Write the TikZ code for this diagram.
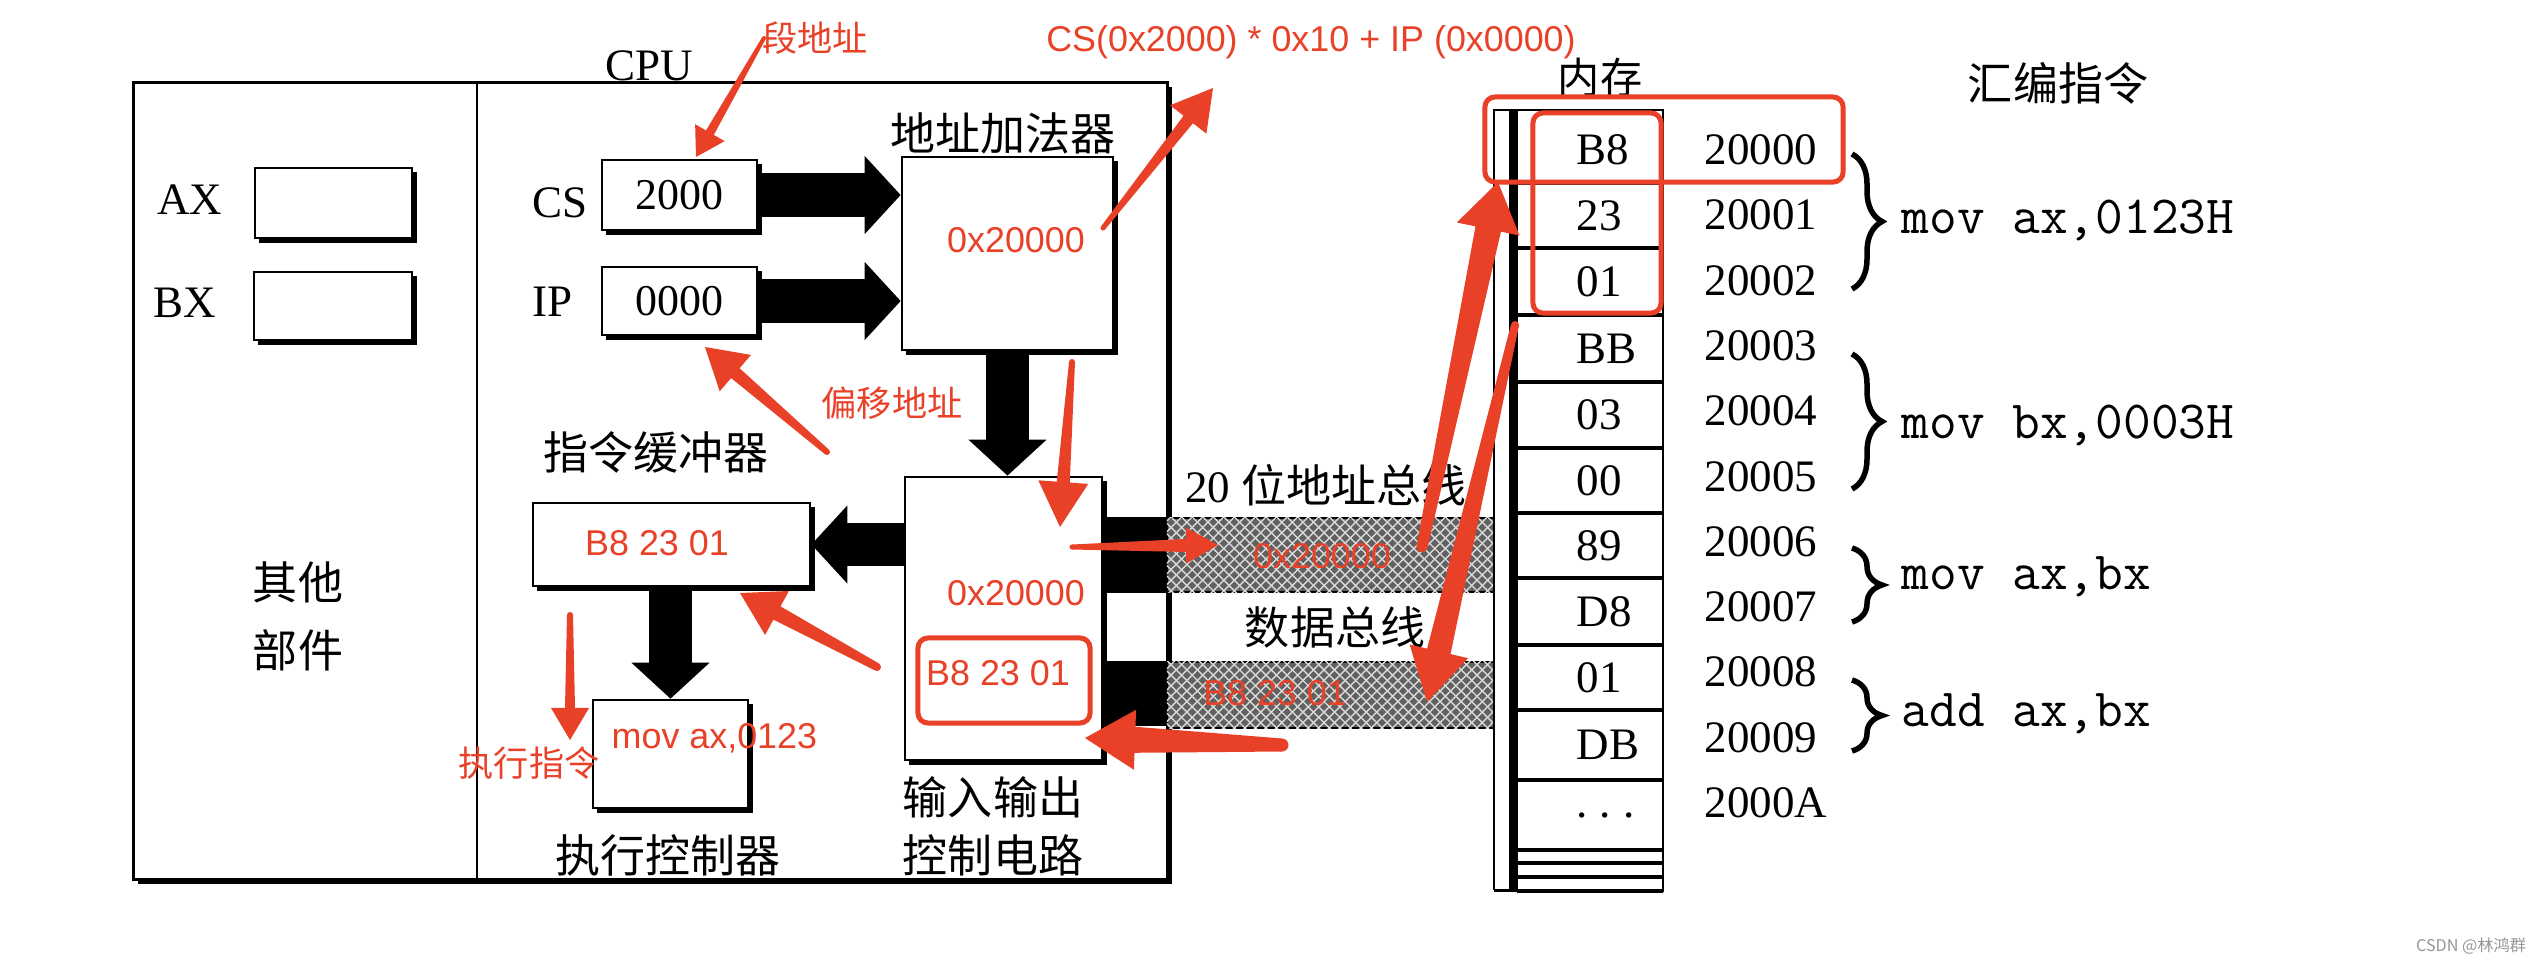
\documentclass[tikz,border=0pt]{standalone}
\usepackage{fontspec}
\setmainfont{Liberation Serif}
\newfontfamily\cjk{Noto Sans CJK SC}
\newfontfamily\annsans{Liberation Sans}
\usetikzlibrary{arrows.meta,calc,patterns,shadows,decorations.pathreplacing}
\definecolor{annred}{RGB}{233,65,40}
\definecolor{wmgray}{RGB}{150,150,150}
\newcommand\labfont{\fontsize{12.8pt}{14pt}\selectfont}
\newcommand\cjklabfont{\cjk\fontsize{12.8pt}{14pt}\selectfont}
\newcommand\redfont{\annsans\fontsize{10.2pt}{12pt}\selectfont}
\newcommand\redcjkfont{\cjk\fontsize{10pt}{12pt}\selectfont}
\newcommand\insfont{\ttfamily\fontsize{15.3pt}{17pt}\selectfont}
% #1 tail, #2 tip, #3 head length, #4 head half width, #5 tail half width, #6 base half width
\newcommand\annarrow[6]{%
  \coordinate (annC) at ($(#2)!#3!(#1)$);
  \fill[annred] ($(#1)!#5!90:(#2)$) -- ($(annC)!#6!90:(#2)$) -- ($(annC)!#4!90:(#2)$) -- (#2)
     -- ($(annC)!#4!-90:(#2)$) -- ($(annC)!#6!-90:(#2)$) -- ($(#1)!#5!-90:(#2)$) -- cycle;
  \fill[annred] (#1) circle[radius=#5];
}
\begin{document}
\begin{tikzpicture}[x=0.01cm,y=-0.01cm,
  regbox/.style={draw=black, line width=0.025cm, fill=white, inner sep=0pt,
     drop shadow={fill=black, opacity=1, shadow xshift=0.045cm, shadow yshift=-0.045cm}},
  fatarrow/.style={line width=0.43cm, -{Triangle[length=0.36cm,width=0.76cm]}},
  labeltxt/.style={font=\labfont, inner sep=0pt},
  cjktxt/.style={font=\cjklabfont, inner sep=0pt},
  redtxt/.style={font=\redfont, text=annred, inner sep=0pt},
  redcjktxt/.style={font=\redcjkfont, text=annred, inner sep=0pt},
  redframe/.style={draw=annred, line width=0.05cm, rounded corners=0.1cm, inner sep=0pt},
  memtxt/.style={font=\labfont, inner sep=0pt, anchor=west},
  instxt/.style={font=\insfont, inner sep=0pt, anchor=west},
  busband/.style={fill=black!62, draw=black, line width=0.025cm, inner sep=0pt,
     postaction={pattern=north east lines, pattern color=black!15},
     postaction={pattern=north west lines, pattern color=black!15}},
  membrace/.style={decorate, decoration={brace, amplitude=0.3cm}, line width=0.055cm}]
\useasboundingbox (0,0) rectangle (2536,960);
\fill[white] (0,0) rectangle (2536,960);

% ---------------- CPU frame ----------------
\node[regbox, line width=0.03cm, minimum width=10.33cm, minimum height=7.96cm] (cpu) at (650.5,481) {};
\draw[line width=0.025cm] (477,83) -- (477,879);
\node[labeltxt, anchor=base] (cpulab) at (649,80) {CPU};

% other parts
\node[labeltxt] (axlab) at (190,200) {AX};
\node[regbox, minimum width=1.57cm, minimum height=0.70cm] (ax) at (333.5,203) {};
\node[labeltxt] (bxlab) at (185,303) {BX};
\node[regbox, minimum width=1.58cm, minimum height=0.68cm] (bx) at (333,306) {};
\node[cjktxt] (other1) at (298,582) {其他};
\node[cjktxt] (other2) at (298,650) {部件};

% CS / IP
\node[labeltxt] (cslab) at (560,203) {CS};
\node[regbox, minimum width=1.55cm, minimum height=0.70cm, font=\fontsize{12.5pt}{14pt}\selectfont] (cs) at (679.5,195) {2000};
\node[labeltxt] (iplab) at (553,302) {IP};
\node[regbox, minimum width=1.55cm, minimum height=0.68cm, font=\fontsize{12.5pt}{14pt}\selectfont] (ip) at (679.5,301) {0000};

% address adder
\node[cjktxt] (addlab) at (1003,133) {地址加法器};
\node[regbox, minimum width=2.11cm, minimum height=1.93cm] (adder) at (1007.5,253.5) {};

% IO control
\node[regbox, minimum width=1.97cm, minimum height=2.83cm] (io) at (1003.5,618.5) {};
\node[cjktxt] (iolab1) at (993,797) {输入输出};
\node[cjktxt] (iolab2) at (993,855) {控制电路};

% instruction buffer
\node[cjktxt] (buflab) at (656,452) {指令缓冲器};
\node[regbox, minimum width=2.77cm, minimum height=0.83cm] (buf) at (671.5,544.5) {};

% execution controller
\node[regbox, minimum width=1.55cm, minimum height=1.08cm] (exec) at (670.5,754) {};
\node[cjktxt] (execlab) at (668,855) {执行控制器};

% thick black arrows
\draw[fatarrow] (cs.east) -- (cs.east -| adder.west);
\draw[fatarrow] (ip.east) -- (ip.east -| adder.west);
\draw[fatarrow] (adder.south) -- (adder.south |- io.north);
\draw[fatarrow] (io.west |- buf.east) -- (buf.east);
\draw[fatarrow] (buf.south -| exec.north) -- (exec.north);

% ---------------- buses ----------------
\node[busband, minimum width=3.27cm, minimum height=0.74cm] (abus) at (1330.5,555) {};
\node[busband, minimum width=3.27cm, minimum height=0.66cm] (dbus) at (1330.5,695) {};
\fill[black] (io.east |- abus.north) rectangle (abus.south west);
\fill[black] (io.east |- dbus.north) rectangle ($(dbus.south west)+(0,-3)$);
\node[font=\labfont, inner sep=0pt] (abuslab) at (1326,485) {20 {\cjk 位地址总线}};
\node[cjktxt] (dbuslab) at (1335,627) {数据总线};

% ---------------- memory ----------------
\node[font=\cjk\fontsize{12pt}{14pt}\selectfont, inner sep=0pt] (memlab) at (1600,77) {内存};
\node[cjktxt] (asmlab) at (2058,83) {汇编指令};
\draw[line width=0.025cm] (1494,890) -- (1494,110) -- (1663,110) -- (1663,892);
\draw[line width=0.09cm] (1513,110) -- (1513,892);
\foreach \yy in {183,248,315,382,448,513,578,645,710,780,850,863,877,891}
  \draw[line width=0.04cm] (1517,\yy) -- (1663,\yy);
\draw[line width=0.03cm] (1494,890) -- (1513,890);
\foreach \t/\yy/\n in {B8/149.5/0,23/215.5/1,01/281.5/2,BB/348.5/3,03/415/4,00/480.5/5,89/545.5/6,D8/611.5/7,01/677.5/8,DB/745/9}
  \node[memtxt] (m\n) at (1576,\yy) {\t};
\node[memtxt] (m10) at (1576,815) {.\hspace{0.12cm}.\hspace{0.12cm}.};
\foreach \t/\yy/\n in {20000/150/0,20001/215/1,20002/281/2,20003/346/3,20004/411/4,20005/477/5,20006/542/6,20007/607/7,20008/672/8,20009/738/9,2000A/803/10}
  \node[memtxt] (a\n) at (1704,\yy) {\t};

% braces and instructions
\draw[membrace] (1852,154) -- (1852,289);
\draw[membrace] (1852,354) -- (1852,489);
\draw[membrace] (1852,548) -- (1852,622);
\draw[membrace] (1852,680) -- (1852,751);
\node[instxt] (ins1) at (1901,220) {mov ax,0123H};
\node[instxt] (ins2) at (1901,425) {mov bx,0003H};
\node[instxt] (ins3) at (1901,577) {mov ax,bx};
\node[instxt] (ins4) at (1901,714) {add ax,bx};

% ---------------- red annotations ----------------
\node[redcjktxt] (segtxt) at (815,38) {段地址};
\node[redtxt] (formula) at (1311,42) {CS(0x2000) * 0x10 + IP (0x0000)};
\node[redtxt] (sum1) at (1016,240) {0x20000};
\node[redcjktxt] (offtxt) at (892,403) {偏移地址};
\node[redtxt] (bufval) at (657,543) {B8 23 01};
\node[redtxt] (sum2) at (1016,593) {0x20000};
\node[redframe, minimum width=1.72cm, minimum height=0.85cm] (iobox) at (1004,680.5) {};
\node[redtxt] (ioval) at (998,673) {B8 23 01};
\node[redtxt, anchor=west] (execval) at (611,738) {mov ax,0123};
\node[redcjktxt] (exectxt) at (529,763) {执行指令};
\node[redtxt] (abusval) at (1322,556) {0x20000};
\node[redtxt] (dbusval) at (1275,693) {B8 23 01};
\node[redframe, minimum width=3.58cm, minimum height=0.85cm] (rowbox) at (1664,139.5) {};
\node[redframe, minimum width=1.28cm, minimum height=2.00cm] (colbox) at (1597,213) {};

\coordinate (s1) at (764,38);   \coordinate (t1) at (696,157);
\coordinate (s2) at (1103,228); \coordinate (t2) at (1213,88);
\coordinate (s3) at (827,452);  \coordinate (t3) at (705,347);
\coordinate (s4) at (1072,362); \coordinate (t4) at (1060,527);
\coordinate (s5) at (1072,547); \coordinate (t5) at (1218,545);
\coordinate (s6) at (1422,547); \coordinate (t6) at (1498,182);
\coordinate (s7) at (1515,325); \coordinate (t7) at (1427,702);
\coordinate (s8) at (1282,745); \coordinate (t8) at (1085,738);
\coordinate (s9) at (877,667);  \coordinate (t9) at (740,593);
\coordinate (s10) at (570,615); \coordinate (t10) at (570,740);
\annarrow{s1}{t1}{0.28cm}{0.17cm}{0.02cm}{0.045cm}
\annarrow{s2}{t2}{0.40cm}{0.23cm}{0.025cm}{0.06cm}
\annarrow{s3}{t3}{0.40cm}{0.24cm}{0.03cm}{0.065cm}
\annarrow{s4}{t4}{0.45cm}{0.25cm}{0.03cm}{0.065cm}
\annarrow{s5}{t5}{0.32cm}{0.18cm}{0.025cm}{0.065cm}
\annarrow{s6}{t6}{0.48cm}{0.32cm}{0.055cm}{0.13cm}
\annarrow{s7}{t7}{0.52cm}{0.30cm}{0.04cm}{0.12cm}
\annarrow{s8}{t8}{0.50cm}{0.30cm}{0.065cm}{0.13cm}
\annarrow{s9}{t9}{0.42cm}{0.25cm}{0.04cm}{0.075cm}
\annarrow{s10}{t10}{0.32cm}{0.19cm}{0.03cm}{0.05cm}

% watermark
\node[font=\cjk\fontsize{4.6pt}{5pt}\selectfont, text=wmgray, inner sep=0pt] (wm) at (2471,946) {CSDN @林鸿群};
\end{tikzpicture}
\end{document}
